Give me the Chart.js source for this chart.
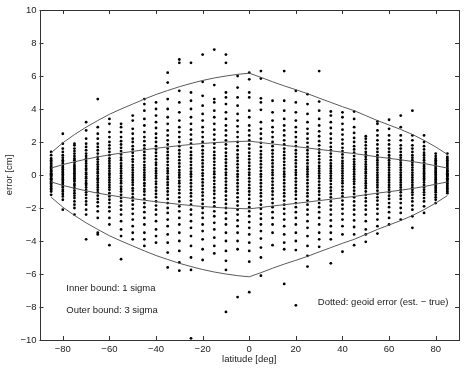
<!DOCTYPE html>
<html>
<head>
<meta charset="utf-8">
<script src="https://cdn.jsdelivr.net/npm/chart.js@4"></script>
<style>
html,body{margin:0;padding:0;background:#fff;}
#c{display:block;}
</style>
</head>
<body>
<canvas id="c" width="474" height="372"></canvas>
<script>
const latitudes = [-85,-80,-75,-70,-65,-60,-55,-50,-45,-40,-35,-30,-25,-20,-15,-10,-5,0,5,10,15,20,25,30,35,40,45,50,55,60,65,70,75,80,85];

const innerBound = [0.42,0.63,0.8,0.96,1.1,1.22,1.33,1.43,1.53,1.62,1.7,1.78,1.85,1.91,1.96,2.0,2.03,2.05,1.97,1.88,1.8,1.72,1.64,1.55,1.47,1.38,1.3,1.2,1.1,1.01,0.92,0.82,0.7,0.56,0.42];
const outerBound = [1.35,1.95,2.45,2.9,3.3,3.68,4.0,4.3,4.6,4.88,5.12,5.35,5.55,5.73,5.88,6.0,6.1,6.17,5.92,5.65,5.4,5.17,4.93,4.66,4.4,4.14,3.9,3.6,3.3,3.03,2.76,2.46,2.1,1.7,1.25];

const geoidErrors = [
 [1.4,1.2,1.0,0.9,0.8,0.7,0.6,0.5,0.45,0.4,0.3,0.25,0.2,0.1,0.05,0,-0.05,-0.1,-0.2,-0.25,-0.3,-0.4,-0.45,-0.5,-0.6,-0.7,-0.8,-0.9,-1.0,-1.2],
 [2.5,1.9,1.6,1.4,1.2,1.05,0.9,0.8,0.7,0.55,0.45,0.35,0.25,0.15,0.05,-0.05,-0.15,-0.25,-0.35,-0.45,-0.55,-0.65,-0.75,-0.9,-1.0,-1.15,-1.3,-1.5,-2.1],
 [1.9,1.8,1.6,1.45,1.3,1.15,1.0,0.9,0.75,0.6,0.5,0.4,0.3,0.2,0.1,0,-0.1,-0.2,-0.3,-0.4,-0.55,-0.65,-0.8,-0.95,-1.1,-1.25,-1.4,-1.6,-1.8,-2.0,-2.4],
 [3.2,2.7,2.2,1.9,1.7,1.5,1.3,1.15,1.0,0.85,0.7,0.55,0.4,0.3,0.15,0.05,-0.1,-0.2,-0.35,-0.5,-0.6,-0.75,-0.9,-1.05,-1.2,-1.4,-1.6,-1.8,-2.1,-2.4,-3.9],
 [4.6,2.9,2.5,2.2,1.9,1.7,1.5,1.3,1.1,0.95,0.8,0.65,0.5,0.35,0.2,0.1,-0.05,-0.2,-0.3,-0.45,-0.6,-0.75,-0.9,-1.05,-1.25,-1.45,-1.65,-1.9,-2.2,-2.6,-3.5,-3.6],
 [3.4,3.1,2.6,2.3,2.0,1.8,1.6,1.4,1.2,1.0,0.85,0.7,0.55,0.4,0.25,0.1,0,-0.15,-0.3,-0.45,-0.6,-0.75,-0.9,-1.1,-1.3,-1.5,-1.7,-1.95,-2.2,-2.6,-3.0,-4.25],
 [3.1,2.9,2.6,2.3,2.05,1.85,1.65,1.45,1.25,1.05,0.9,0.7,0.55,0.4,0.25,0.1,-0.05,-0.2,-0.35,-0.5,-0.7,-0.85,-1.0,-1.2,-1.4,-1.6,-1.85,-2.1,-2.4,-2.8,-3.3,-3.7,-5.1],
 [3.6,3.3,2.8,2.5,2.2,2.0,1.75,1.55,1.35,1.15,0.95,0.8,0.6,0.45,0.3,0.15,0,-0.15,-0.3,-0.45,-0.6,-0.8,-0.95,-1.15,-1.35,-1.55,-1.8,-2.05,-2.35,-2.7,-3.1,-3.5,-3.9],
 [4.6,4.3,3.9,3.4,3.0,2.6,2.3,2.05,1.8,1.6,1.4,1.2,1.0,0.8,0.6,0.45,0.3,0.15,0,-0.15,-0.3,-0.5,-0.65,-0.85,-1.0,-1.2,-1.45,-1.7,-1.95,-2.25,-2.6,-3.0,-3.5,-3.9,-4.3],
 [4.4,4.0,3.6,3.2,2.85,2.5,2.25,2.0,1.75,1.55,1.35,1.15,0.95,0.75,0.6,0.4,0.25,0.1,-0.05,-0.2,-0.4,-0.55,-0.75,-0.95,-1.15,-1.35,-1.6,-1.85,-2.1,-2.4,-2.8,-3.3,-3.7,-4.1],
 [6.2,5.6,4.6,4.0,3.5,3.1,2.7,2.4,2.1,1.85,1.6,1.4,1.2,1.0,0.8,0.6,0.4,0.25,0.1,-0.1,-0.25,-0.45,-0.6,-0.8,-1.0,-1.2,-1.45,-1.7,-2.0,-2.3,-2.7,-3.1,-3.6,-4.1,-4.7,-5.6],
 [7.0,6.8,5.1,4.4,3.8,3.3,2.9,2.6,2.3,2.0,1.75,1.5,1.3,1.1,0.9,0.7,0.5,0.3,0.15,0,-0.15,-0.35,-0.5,-0.7,-0.9,-1.1,-1.35,-1.6,-1.9,-2.2,-2.6,-3.0,-3.5,-4.0,-4.6,-5.3,-5.8],
 [6.8,5.0,4.5,4.0,3.5,3.1,2.75,2.45,2.15,1.9,1.65,1.4,1.2,1.0,0.8,0.6,0.4,0.2,0.05,-0.1,-0.3,-0.5,-0.7,-0.9,-1.1,-1.3,-1.55,-1.8,-2.1,-2.4,-2.8,-3.2,-3.7,-4.3,-5.0,-5.75,-9.9],
 [7.3,5.65,4.8,4.2,3.7,3.3,2.9,2.6,2.3,2.0,1.75,1.5,1.3,1.1,0.9,0.7,0.5,0.3,0.1,-0.05,-0.25,-0.45,-0.65,-0.85,-1.05,-1.25,-1.5,-1.75,-2.0,-2.3,-2.6,-3.0,-3.4,-3.9,-4.5,-5.15],
 [7.6,5.45,4.6,4.4,3.9,3.5,3.1,2.75,2.45,2.15,1.9,1.65,1.4,1.2,1.0,0.8,0.6,0.4,0.2,0.05,-0.15,-0.35,-0.55,-0.75,-0.95,-1.15,-1.4,-1.65,-1.9,-2.2,-2.5,-2.9,-3.3,-3.8,-4.3,-4.75],
 [7.3,6.8,5.0,4.7,4.3,3.8,3.4,3.0,2.7,2.4,2.1,1.85,1.6,1.35,1.15,0.95,0.75,0.55,0.35,0.15,0,-0.2,-0.4,-0.6,-0.8,-1.0,-1.25,-1.5,-1.75,-2.0,-2.3,-2.65,-3.0,-3.5,-4.0,-4.6,-5.2,-5.75,-8.3],
 [6.0,5.3,4.7,4.2,3.7,3.3,2.95,2.6,2.3,2.0,1.75,1.5,1.25,1.05,0.85,0.65,0.45,0.25,0.05,-0.1,-0.3,-0.5,-0.7,-0.9,-1.1,-1.35,-1.6,-1.85,-2.1,-2.4,-2.75,-3.1,-3.5,-4.0,-4.5,-7.4],
 [6.2,5.8,5.0,4.7,3.9,3.5,3.0,2.7,2.4,2.1,1.85,1.6,1.35,1.15,0.95,0.75,0.55,0.35,0.15,0,-0.2,-0.4,-0.6,-0.8,-1.0,-1.2,-1.45,-1.7,-1.95,-2.2,-2.5,-2.85,-3.2,-3.6,-4.1,-4.6,-5.25,-7.1],
 [6.3,5.85,4.65,4.4,3.95,3.2,2.8,2.5,2.2,1.95,1.7,1.45,1.25,1.05,0.85,0.65,0.45,0.25,0.05,-0.1,-0.3,-0.5,-0.7,-0.9,-1.1,-1.3,-1.55,-1.8,-2.05,-2.35,-2.65,-3.0,-3.4,-3.85,-4.4,-5.0,-6.1],
 [4.5,3.8,3.3,2.9,2.6,2.3,2.0,1.75,1.5,1.3,1.1,0.9,0.7,0.5,0.3,0.15,0,-0.2,-0.4,-0.6,-0.8,-1.0,-1.2,-1.45,-1.7,-1.95,-2.25,-2.6,-3.0,-3.5,-4.25],
 [6.3,4.5,3.9,3.4,3.0,2.7,2.4,2.1,1.85,1.6,1.4,1.2,1.0,0.8,0.6,0.4,0.2,0.05,-0.1,-0.3,-0.5,-0.7,-0.9,-1.1,-1.3,-1.55,-1.8,-2.05,-2.35,-2.7,-3.1,-3.6,-4.1,-4.5,-6.6],
 [5.1,4.4,3.8,3.3,2.9,2.6,2.3,2.0,1.75,1.5,1.3,1.1,0.9,0.7,0.5,0.3,0.15,0,-0.2,-0.4,-0.6,-0.8,-1.0,-1.2,-1.45,-1.7,-1.95,-2.25,-2.6,-3.0,-3.5,-4.0,-4.55,-7.9],
 [4.9,4.3,3.7,3.2,2.8,2.5,2.2,1.95,1.7,1.5,1.3,1.1,0.9,0.7,0.5,0.35,0.2,0.05,-0.1,-0.3,-0.5,-0.7,-0.9,-1.1,-1.3,-1.55,-1.8,-2.1,-2.4,-2.8,-3.2,-3.7,-4.3,-4.9,-5.55],
 [6.3,4.45,3.9,3.4,3.0,2.65,2.35,2.05,1.8,1.55,1.35,1.15,0.95,0.75,0.55,0.4,0.25,0.1,-0.05,-0.2,-0.4,-0.6,-0.8,-1.0,-1.2,-1.45,-1.7,-1.95,-2.25,-2.6,-3.0,-3.5,-3.9,-4.35],
 [3.85,3.6,3.2,2.85,2.5,2.2,1.95,1.7,1.5,1.3,1.1,0.9,0.7,0.55,0.4,0.25,0.1,-0.05,-0.2,-0.35,-0.55,-0.75,-0.95,-1.15,-1.35,-1.6,-1.85,-2.1,-2.4,-2.75,-3.1,-3.5,-3.9,-5.35],
 [3.8,3.5,3.1,2.75,2.45,2.15,1.9,1.65,1.45,1.25,1.05,0.85,0.7,0.55,0.4,0.25,0.1,-0.05,-0.2,-0.35,-0.5,-0.7,-0.9,-1.1,-1.3,-1.55,-1.8,-2.05,-2.35,-2.7,-3.1,-3.6,-4.65],
 [3.85,3.4,2.9,2.55,2.25,2.0,1.75,1.55,1.35,1.15,0.95,0.8,0.65,0.5,0.35,0.2,0.05,-0.1,-0.25,-0.4,-0.55,-0.75,-0.95,-1.15,-1.35,-1.6,-1.85,-2.1,-2.4,-2.75,-3.15,-3.6,-4.25],
 [2.35,2.2,2.0,1.8,1.6,1.4,1.25,1.1,0.95,0.8,0.65,0.5,0.35,0.2,0.1,-0.05,-0.2,-0.35,-0.5,-0.65,-0.8,-1.0,-1.2,-1.4,-1.6,-1.85,-2.1,-2.4,-2.8,-3.3,-3.6,-4.05],
 [3.25,3.1,2.7,2.4,2.1,1.85,1.6,1.4,1.2,1.05,0.9,0.75,0.6,0.45,0.3,0.15,0,-0.15,-0.3,-0.45,-0.6,-0.75,-0.95,-1.15,-1.35,-1.55,-1.8,-2.05,-2.35,-2.7,-3.1,-3.55],
 [3.35,2.8,2.4,2.1,1.85,1.6,1.4,1.2,1.05,0.9,0.75,0.6,0.45,0.3,0.15,0,-0.15,-0.3,-0.45,-0.6,-0.75,-0.9,-1.05,-1.25,-1.45,-1.7,-1.95,-2.25,-2.6,-3.0],
 [3.6,2.9,2.4,2.1,1.8,1.6,1.4,1.2,1.05,0.9,0.75,0.6,0.45,0.3,0.15,0,-0.15,-0.3,-0.45,-0.6,-0.75,-0.9,-1.05,-1.25,-1.45,-1.7,-2.0,-2.3,-2.7],
 [3.9,2.4,2.1,1.8,1.6,1.4,1.2,1.05,0.9,0.75,0.6,0.45,0.3,0.15,0,-0.15,-0.3,-0.45,-0.6,-0.75,-0.9,-1.05,-1.2,-1.4,-1.6,-1.85,-2.1,-2.5,-3.2],
 [2.4,2.0,1.75,1.55,1.35,1.2,1.05,0.9,0.75,0.6,0.5,0.4,0.3,0.2,0.1,0,-0.1,-0.2,-0.3,-0.45,-0.6,-0.75,-0.9,-1.05,-1.2,-1.4,-1.6,-1.9,-2.3],
 [1.3,1.15,1.0,0.9,0.8,0.7,0.6,0.5,0.4,0.3,0.2,0.15,0.05,-0.05,-0.15,-0.25,-0.35,-0.45,-0.55,-0.65,-0.75,-0.85,-0.95,-1.05,-1.2,-1.35,-1.5,-1.7],
 [1.3,1.1,1.0,0.9,0.8,0.7,0.6,0.5,0.4,0.3,0.25,0.2,0.1,0.05,0,-0.05,-0.1,-0.2,-0.25,-0.3,-0.4,-0.5,-0.6,-0.7,-0.8,-0.9,-1.0,-1.1]
];

const xTicks = [-80,-60,-40,-20,0,20,40,60,80];
const yTicks = [-10,-8,-6,-4,-2,0,2,4,6,8,10];

const FONT = '"Liberation Sans", Arial, Helvetica, sans-serif';

const scatterPts = [];
latitudes.forEach((lat, i) => geoidErrors[i].forEach(v => scatterPts.push({x: lat, y: v})));
const band = (arr, sign) => latitudes.map((lat, i) => ({x: lat, y: sign * arr[i]}));

const lineStyle = {type: 'line', borderColor: '#5a5a5a', borderWidth: 1, pointRadius: 0, fill: false, tension: 0};

const annotations = {
  id: 'annotations',
  afterDraw(chart) {
    const {ctx, chartArea: a, scales: {x, y}} = chart;
    ctx.save();
    ctx.strokeStyle = '#333';
    ctx.lineWidth = 1;
    ctx.strokeRect(Math.round(a.left) + 0.5, Math.round(a.top) + 0.5, Math.round(a.right - a.left) - 1, Math.round(a.bottom - a.top));
    ctx.beginPath();
    const tl = 4;
    xTicks.forEach(v => {
      const px = Math.round(x.getPixelForValue(v)) + 0.5;
      ctx.moveTo(px, a.bottom); ctx.lineTo(px, a.bottom - tl);
      ctx.moveTo(px, a.top); ctx.lineTo(px, a.top + tl);
    });
    yTicks.forEach(v => {
      const py = Math.round(y.getPixelForValue(v)) + 0.5;
      ctx.moveTo(a.left, py); ctx.lineTo(a.left + tl, py);
      ctx.moveTo(a.right, py); ctx.lineTo(a.right - tl, py);
    });
    ctx.stroke();
    ctx.fillStyle = '#222';
    ctx.font = '9.5px ' + FONT;
    ctx.textBaseline = 'middle';
    ctx.textAlign = 'left';
    ctx.fillText('Inner bound: 1 sigma', x.getPixelForValue(-78.5), y.getPixelForValue(-6.85));
    ctx.fillText('Outer bound: 3 sigma', x.getPixelForValue(-78.5), y.getPixelForValue(-8.2));
    ctx.textAlign = 'right';
    ctx.fillText('Dotted: geoid error (est. \u2212 true)', x.getPixelForValue(85.5), y.getPixelForValue(-7.7));
    ctx.restore();
  }
};

const minus = v => String(v).replace('-', '\u2212');

new Chart(document.getElementById('c'), {
  type: 'scatter',
  data: {
    datasets: [
      Object.assign({label: 'outer+', data: band(outerBound, 1)}, lineStyle),
      Object.assign({label: 'outer-', data: band(outerBound, -1)}, lineStyle),
      Object.assign({label: 'inner+', data: band(innerBound, 1)}, lineStyle),
      Object.assign({label: 'inner-', data: band(innerBound, -1)}, lineStyle),
      {label: 'geoid error', data: scatterPts, pointRadius: 1.4, pointBorderWidth: 0, pointBackgroundColor: '#000', borderColor: '#000', backgroundColor: '#000'}
    ]
  },
  options: {
    responsive: false,
    animation: false,
    devicePixelRatio: 1,
    layout: {padding: {top: 10, right: 15, left: 0, bottom: 0}},
    plugins: {legend: {display: false}, tooltip: {enabled: false}},
    scales: {
      x: {
        type: 'linear', min: -90, max: 90,
        afterBuildTicks: s => { s.ticks = xTicks.map(v => ({value: v})); },
        afterFit: s => { s.height = 32; },
        grid: {display: false, drawTicks: false},
        border: {display: false},
        ticks: {color: '#222', font: {family: FONT, size: 9.5}, padding: 4, callback: v => minus(v), maxRotation: 0, autoSkip: false},
        title: {display: true, text: 'latitude [deg]', color: '#222', font: {family: FONT, size: 9.5}, padding: {top: 0, bottom: 7}}
      },
      y: {
        type: 'linear', min: -10, max: 10,
        afterBuildTicks: s => { s.ticks = yTicks.map(v => ({value: v})); },
        afterFit: s => { s.width = 39.5; },
        grid: {display: false, drawTicks: false},
        border: {display: false},
        ticks: {color: '#222', font: {family: FONT, size: 9.5}, padding: 3, callback: v => minus(v), autoSkip: false},
        title: {display: true, text: 'error [cm]', color: '#222', font: {family: FONT, size: 9.5}, padding: {top: 4, bottom: 0}}
      }
    }
  },
  plugins: [annotations]
});
</script>
</body>
</html>
